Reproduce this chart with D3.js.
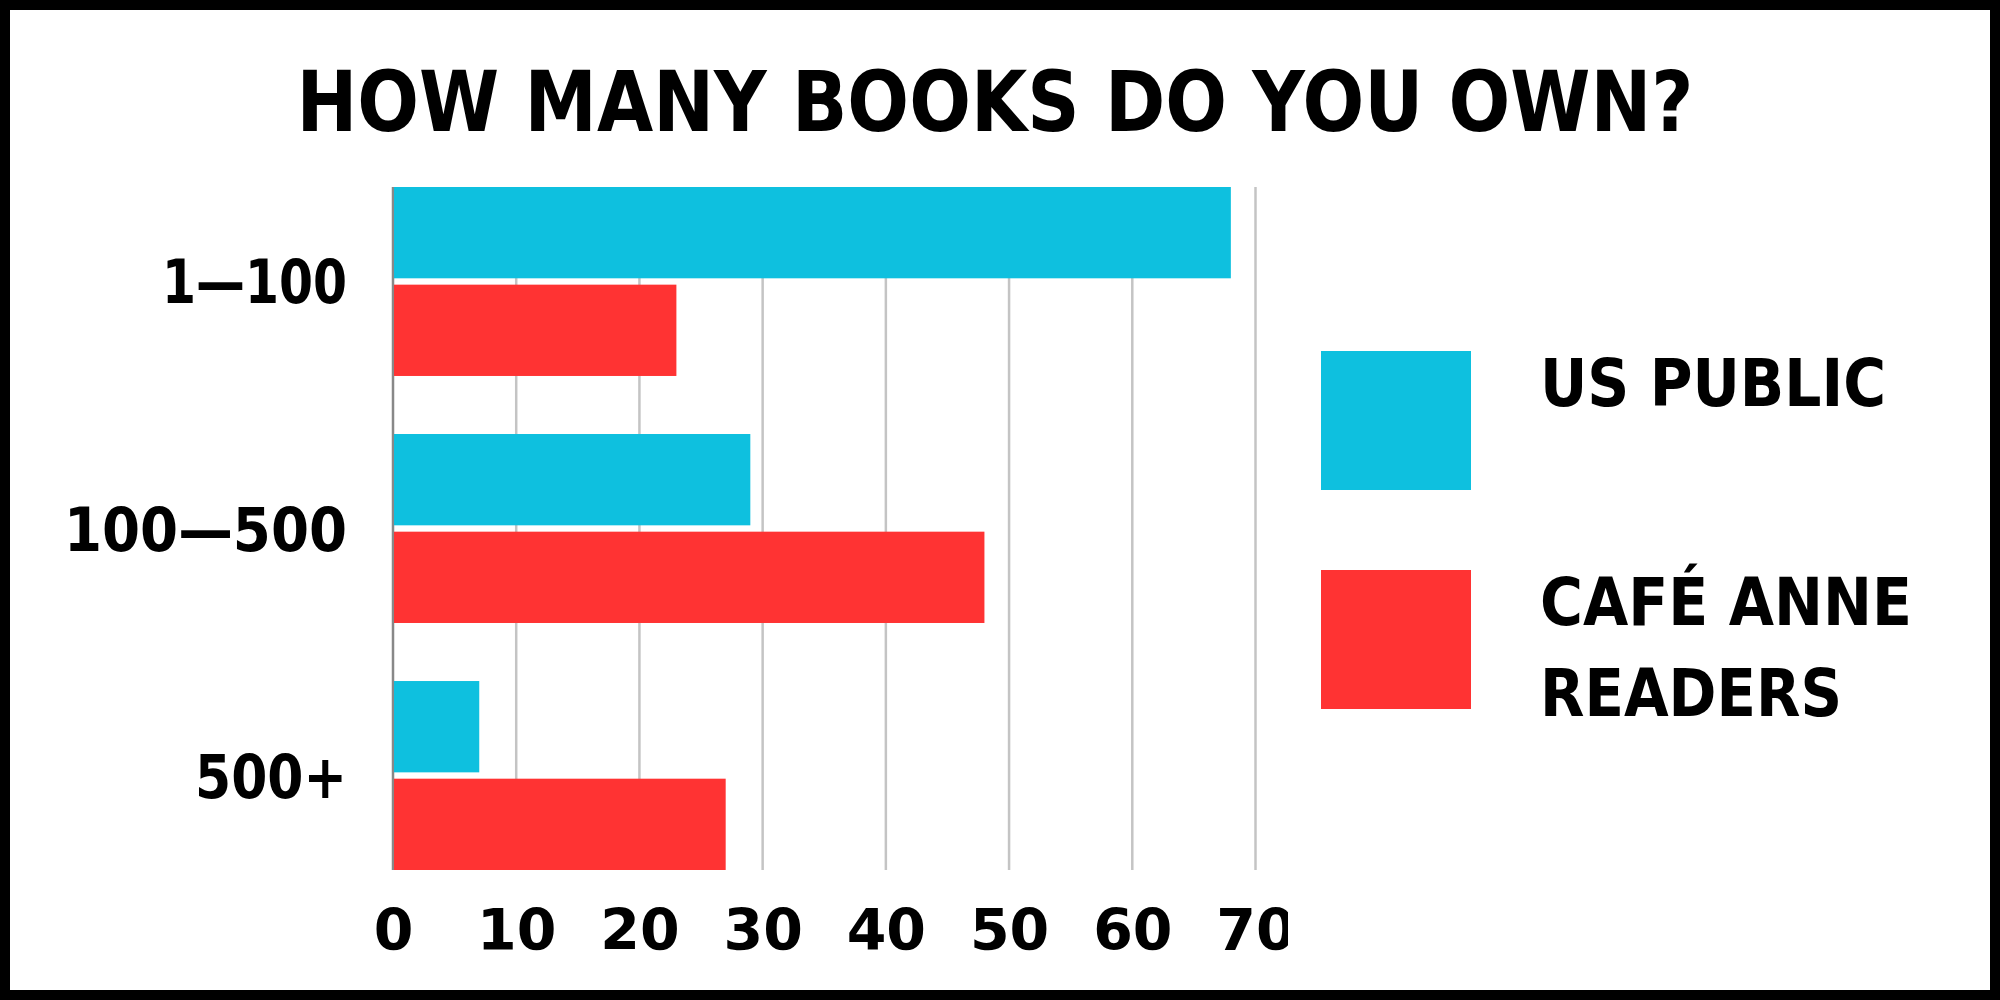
<!DOCTYPE html>
<html>
<head>
<meta charset="utf-8">
<script src="https://cdn.jsdelivr.net/npm/d3@7"></script>
<style>
    html, body { margin: 0; padding: 0; background: #fff; }
    #chart { width: 2000px; height: 1000px; }
    text { font-family: 'DejaVu Sans', sans-serif; font-weight: bold; fill: #000; }
</style>
</head>
<body>
<div id="chart"></div>
<script>
// chart data
const categories = ['1\u2014100', '100\u2014500', '500+']
const seriesNames = ['US PUBLIC', 'CAF\u00C9 ANNE READERS']
const usPublic = [68, 29, 7]
const cafeAnneReaders = [23, 48, 27]
const tickValues = [0, 10, 20, 30, 40, 50, 60, 70]
const colors = ['#0ec0df', '#ff3333']

const width = 2000
const height = 1000
const margin = { top: 187, right: 744, bottom: 130, left: 393 }

const svg = d3
    .select('#chart')
    .append('svg')
    .attr('width', width)
    .attr('height', height)

// frame
svg.append('rect')
    .attr('x', 5)
    .attr('y', 5)
    .attr('width', width - 10)
    .attr('height', height - 10)
    .attr('fill', '#fff')
    .attr('stroke', '#000')
    .attr('stroke-width', 10)

// title
svg.append('text')
    .attr('x', 995)
    .attr('y', 131)
    .attr('text-anchor', 'middle')
    .style('font-size', '84px')
    .attr('textLength', 1397)
    .attr('lengthAdjust', 'spacingAndGlyphs')
    .text('HOW MANY BOOKS DO YOU OWN?')

// scales
const x = d3
    .scaleLinear()
    .domain([0, 70])
    .range([margin.left, width - margin.right - 0.5])

const y0 = d3
    .scaleBand()
    .domain(categories)
    .range([margin.top, height - margin.bottom])
    .paddingInner(0.235)
    .paddingOuter(0)

const y1 = d3
    .scaleBand()
    .domain(seriesNames)
    .range([0, y0.bandwidth()])
    .paddingInner(0.065)

// grid lines
svg.append('g')
    .selectAll('line')
    .data(tickValues)
    .enter()
    .append('line')
    .attr('x1', (d) => x(d))
    .attr('x2', (d) => x(d))
    .attr('y1', margin.top)
    .attr('y2', height - margin.bottom)
    .attr('stroke', (d) => (d === 0 ? '#888' : '#c4c4c4'))
    .attr('stroke-width', 2.5)

// bars
const rows = categories.map((c, i) => ({
    category: c,
    values: [usPublic[i], cafeAnneReaders[i]],
}))

const groups = svg
    .append('g')
    .selectAll('g')
    .data(rows)
    .enter()
    .append('g')
    .attr('transform', (d) => `translate(0,${y0(d.category)})`)

groups
    .selectAll('rect')
    .data((d) => d.values.map((v, j) => ({ series: seriesNames[j], value: v, j })))
    .enter()
    .append('rect')
    .attr('x', x(0) + 1)
    .attr('y', (d) => y1(d.series))
    .attr('width', (d) => x(d.value) - x(0) - 1)
    .attr('height', y1.bandwidth())
    .attr('fill', (d) => colors[d.j])

// category labels
const catWidths = [185, 283, 152]
svg.append('g')
    .selectAll('text')
    .data(categories)
    .enter()
    .append('text')
    .attr('x', 347)
    .attr('y', (d) => y0(d) + y0.bandwidth() / 2 + 22)
    .attr('text-anchor', 'end')
    .style('font-size', '61px')
    .attr('textLength', (d, i) => catWidths[i])
    .attr('lengthAdjust', 'spacingAndGlyphs')
    .text((d) => d)

// x axis tick labels, last one clipped like the original
// (clip rect is in the axis group's own coordinates)
svg.append('clipPath')
    .attr('id', 'tick-clip')
    .append('rect')
    .attr('x', 0)
    .attr('y', 0)
    .attr('width', 1288)
    .attr('height', 110)

const xAxis = d3.axisBottom(x).tickValues(tickValues).tickSize(0).tickPadding(0)

svg.append('g')
    .attr('transform', `translate(0,${height - margin.bottom})`)
    .attr('clip-path', 'url(#tick-clip)')
    .call(xAxis)
    .call((g) => g.select('.domain').remove())
    .call((g) =>
        g
            .selectAll('text')
            .attr('dy', null)
            .attr('y', 80)
            .style('font-size', '57px')
            .style('font-family', "'DejaVu Sans', sans-serif")
            .style('font-weight', 'bold')
            .attr('fill', '#000')
    )

// legend
const legendLines = [['US PUBLIC'], ['CAF\u00C9 ANNE', 'READERS']]
const legendTop = [351, 570]
const legendWidths = [[346], [372, 302]]

const legend = svg
    .append('g')
    .selectAll('g')
    .data(seriesNames)
    .enter()
    .append('g')

legend
    .append('rect')
    .attr('x', 1321)
    .attr('y', (d, i) => legendTop[i])
    .attr('width', 150)
    .attr('height', 139)
    .attr('fill', (d, i) => colors[i])

legend.each(function (d, i) {
    d3.select(this)
        .selectAll('text')
        .data(legendLines[i])
        .enter()
        .append('text')
        .attr('x', 1540)
        .attr('y', (t, k) => legendTop[i] + 55 + k * 91)
        .style('font-size', '66px')
        .attr('textLength', (t, k) => legendWidths[i][k])
        .attr('lengthAdjust', 'spacingAndGlyphs')
        .text((t) => t)
})
</script>
</body>
</html>
